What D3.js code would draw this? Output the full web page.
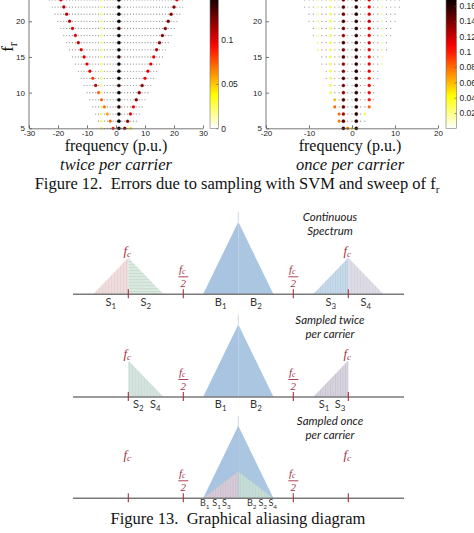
<!DOCTYPE html>
<html><head><meta charset="utf-8">
<script src="https://cdn.jsdelivr.net/npm/d3@7"></script>
<style>body{margin:0;background:#fff;} svg{display:block;}</style>
</head><body><svg id="c" width="474" height="533"></svg>
<script>
// ---------------- DATA (Figure 12) ----------------
const frRows = [5,6,7,8,9,10,11,12,13,14,15,16,17,18,19,20,21,22,23];
// twice per carrier: extent of computed harmonic bins per row
const twiceLow  = [-5,-6,-7,-8,-9,-10,-11,-12,-13,-14,-15,-16,-17,-18,-19,-20,-21,-22,-23];
const twiceHigh = [5,7,8,9,10,11,12,13,14,15,16,17,18,19,20,21,22,23,23];
// fundamental (f = 1) error
const twiceFund = [0.15,0.15,0.15,0.14,0.15,0.15,0.14,0.15,0.15,0.15,0.14,0.15,0.15,0.15,0.14,0.15,0.15,0.15,0.15];
// 5th harmonic (f = -5) error
const twiceH5 = [0.025,0.025,0.025,0.025,0.025,0.022,0.022,0.022,0.022,0.022,0.022,0.022,0.022,0.022,0.022,0.022,0.022,0.022,0.022];
// lower aliased sideband
const twiceLowF = [-1,-2,-3,-4,-5,-6,-7,-8,-9,-10,-11,-12,-13,-14,-15,-16,-17,-18,-19];
const twiceLowV = [0.09,0.07,0.06,0.07,0.075,0.075,0.11,0.085,0.1,0.1,0.1,0.1,0.11,0.1,0.105,0.11,0.11,0.11,0.1];
// upper aliased sideband
const twiceUpF = [3,4,5,6,7,8,9,10,11,12,13,14,15,16,17,18,19,20,21];
const twiceUpV = [0.12,0.12,0.1,0.1,0.12,0.12,0.12,0.1,0.1,0.1,0.1,0.11,0.12,0.12,0.12,0.125,0.12,0.12,0.1];
const twiceExtraFr = [5];
const twiceExtraF  = [5];
const twiceExtraV  = [0.04];

// once per carrier
const onceLow  = [-2,-3,-3,-4,-4,-5,-5,-6,-6,-7,-7,-8,-8,-9,-9,-10,-10,-11,-11];
const onceHigh = [1,3,3,4,5,5,5,6,6,7,7,8,8,9,9,10,10,11,11];
const onceFund = [0.16,0.16,0.16,0.16,0.16,0.16,0.16,0.16,0.16,0.16,0.16,0.16,0.16,0.16,0.16,0.16,0.16,0.16,0.16];
const onceM2   = [0.16,0.15,0.13,0.14,0.15,0.13,0.14,0.15,0.14,0.13,0.15,0.14,0.15,0.13,0.14,0.15,0.14,0.15,0.14];
const onceP4   = [null,null,null,0.08,0.1,0.11,0.11,0.1,0.11,0.11,0.1,0.11,0.12,0.11,0.11,0.12,0.11,0.11,0.11];
const onceM5   = [null,null,null,null,null,0.035,0.035,0.035,0.035,0.035,0.035,0.035,0.035,0.035,0.035,0.035,0.035,0.035,0.035];
const onceM8   = [null,null,null,null,null,null,null,null,null,null,null,0.015,0.015,0.015,0.015,0.015,0.015,0.015,0.015];
const onceP7   = [null,null,null,null,null,null,null,null,null,0.012,0.012,0.012,0.012,0.012,0.012,0.012,0.012,0.012,0.012];
const onceExtraFr = [5,5,6,7,7,8,9];
const onceExtraF  = [-1,0,-3,-3,3,-4,-4];
const onceExtraV  = [0.08,0.04,0.075,0.08,0.03,0.08,0.06];

const xTicksTwice = [-30,-20,-10,0,10,20,30];
const xTicksOnce  = [-20,-10,0,10,20];
const yTicks = [5,10,15,20];
const cbTicksTwice = [0,0.05,0.1];
const cbTicksOnce  = [0.02,0.04,0.06,0.08,0.1,0.12,0.14,0.16];

// ---------------- DATA (Figure 13) ----------------
const markerPos   = [-1,-0.5,0.5,1];          // in units of f_c
const markerKind  = ["fc","half","half","fc"];
const panelTitles = [["Continuous","Spectrum"],["Sampled twice","per carrier"],["Sampled once","per carrier"]];

// ---------------- helpers ----------------
const svg = d3.select("#c");
function hotRev(t){
  const s = 1 - Math.max(0, Math.min(1, t));
  const r = Math.min(1, s/0.375), g = Math.max(0, Math.min(1,(s-0.375)/0.375)), b = Math.max(0, Math.min(1,(s-0.75)/0.25));
  return d3.rgb(r*255, g*255, b*255).toString();
}
const defs = svg.append("defs");

function buildPoints(low, high, specials){
  const pts = [];
  frRows.forEach((r,i)=>{
    const sp = specials.filter(s=>s.fr===r);
    for(let f=low[i]; f<=high[i]; f++){
      if(!sp.some(s=>s.f===f)) pts.push({fr:r,f:f,v:0});
    }
    sp.forEach(s=>pts.push(s));
  });
  return pts.sort((a,b)=>a.v-b.v);
}
function series(fArr, vArr){
  const out=[];
  frRows.forEach((r,i)=>{
    const f = Array.isArray(fArr)? fArr[i] : fArr;
    if(vArr[i]!=null) out.push({fr:r,f:f,v:vArr[i]});
  });
  return out;
}
function extras(frs, fs, vs){ return frs.map((r,i)=>({fr:r,f:fs[i],v:vs[i]})); }

function drawScatter(opts){
  const {x, y, pts, color, cbX, cbW, cbScale, cbTicks, cbFmt, id} = opts;
  const g = svg.append("g");
  const dots = g.append("g");
  dots.selectAll("circle").data(pts).join("circle")
    .attr("cx", d=>x(d.f)).attr("cy", d=>y(d.fr))
    .attr("r", d=> d.v===0 ? 0.6 : 0.7 + Math.sqrt(d.v)*2.4)
    .attr("fill", d=> d.v===0 ? "#8c8c8c" : color(d.v))
    .attr("stroke", d=> d.v===0 ? "none" : d3.color(color(d.v)).darker(0.3))
    .attr("stroke-width", 0.3);
  // axes
  const ax = g.append("g").attr("transform",`translate(0,${y(5)})`)
    .call(d3.axisBottom(x).tickValues(opts.xTicks).tickFormat(d=>String(d)).tickSizeInner(-3).tickSizeOuter(0).tickPadding(2));
  const ay = g.append("g").attr("transform",`translate(${x.range()[0]},0)`)
    .call(d3.axisLeft(y).tickValues(yTicks).tickFormat(d=>String(d)).tickSizeInner(-3).tickSizeOuter(0).tickPadding(4));
  [ax,ay].forEach(a=>{
    a.selectAll("path,line").attr("stroke","#555").attr("stroke-width",0.8);
    a.selectAll("text").attr("font-family","Liberation Sans, Arial, sans-serif").attr("font-size",8).attr("fill","#222");
  });
  ay.select(".domain").attr("d",`M0,${y(5)}V${y(24.5)}`);
  // colorbar
  const grad = defs.append("linearGradient").attr("id",id).attr("x1",0).attr("x2",0).attr("y1",1).attr("y2",0);
  d3.range(0,1.0001,0.05).forEach(t=>{
    grad.append("stop").attr("offset",t).attr("stop-color", color(cbScale.domain()[0] + t*(cbScale.domain()[1]-cbScale.domain()[0])));
  });
  const [c0,c1] = cbScale.range();
  g.append("rect").attr("x",cbX).attr("y",c1).attr("width",cbW).attr("height",c0-c1)
    .attr("fill",`url(#${id})`).attr("stroke","#777").attr("stroke-width",0.6);
  const cb = g.append("g").attr("transform",`translate(${cbX+cbW},0)`)
    .call(d3.axisRight(cbScale).tickValues(cbTicks).tickFormat(cbFmt).tickSizeInner(-2).tickSizeOuter(0).tickPadding(3));
  cb.select(".domain").remove();
  cb.selectAll("line").attr("stroke","#555").attr("stroke-width",0.6);
  cb.selectAll("text").attr("font-family","Liberation Sans, Arial, sans-serif").attr("font-size",8.5).attr("fill","#222");
}

// ---------------- Figure 12 ----------------
const yS = d3.scaleLinear().domain([5,20]).range([128.3,21.3]);
const xL = d3.scaleLinear().domain([-30,30]).range([29,203]);
const xR = d3.scaleLinear().domain([-20,20]).range([266,438]);

const colL = d3.scaleSequential(t=>hotRev(t)).domain([0,0.15]);
const colR = d3.scaleSequential(t=>hotRev(t)).domain([0,0.17]);

const ptsL = buildPoints(twiceLow, twiceHigh, [].concat(
  series(-5, twiceH5), series(twiceLowF, twiceLowV), series(twiceUpF, twiceUpV),
  extras(twiceExtraFr, twiceExtraF, twiceExtraV), series(1, twiceFund)));
const ptsR = buildPoints(onceLow, onceHigh, [].concat(
  series(-8, onceM8), series(7, onceP7), series(-5, onceM5), series(4, onceP4),
  extras(onceExtraFr, onceExtraF, onceExtraV), series(-2, onceM2), series(1, onceFund)));

drawScatter({x:xL, y:yS, pts:ptsL, color:colL, xTicks:xTicksTwice, cbX:210, cbW:8.3,
  cbScale:d3.scaleLinear().domain([0,0.15]).range([128.3,128.3-0.15/0.05*44.4]), cbTicks:cbTicksTwice,
  cbFmt:d=>d===0?"0":String(d), id:"gL"});
drawScatter({x:xR, y:yS, pts:ptsR, color:colR, xTicks:xTicksOnce, cbX:446, cbW:10.5,
  cbScale:d3.scaleLinear().domain([0,0.17]).range([128.3,128.3-0.17/0.02*15.3]), cbTicks:cbTicksOnce,
  cbFmt:d=>String(d), id:"gR"});

// axis / caption texts
const serif = "Liberation Serif, Times New Roman, serif";
const yl = svg.append("text").attr("transform","translate(13,47) rotate(-90)")
  .attr("text-anchor","middle").attr("font-family",serif).attr("font-size",17).attr("fill","#111");
yl.append("tspan").text("f");
yl.append("tspan").attr("dy",4).attr("font-size",12).text("r");

[[116,"twice per carrier"],[350,"once per carrier"]].forEach(([cx,t])=>{
  svg.append("text").attr("x",cx).attr("y",150.5).attr("text-anchor","middle")
    .attr("font-family",serif).attr("font-size",16).attr("fill","#111").text("frequency (p.u.)");
  svg.append("text").attr("x",cx).attr("y",169.5).attr("text-anchor","middle")
    .attr("font-family",serif).attr("font-style","italic").attr("font-size",16.5).attr("fill","#111").text(t);
});
const cap12 = svg.append("text").attr("x",237).attr("y",189).attr("text-anchor","middle")
  .attr("font-family",serif).attr("font-size",16.5).attr("fill","#111");
cap12.append("tspan").text("Figure 12.\u00a0 Errors due to sampling with SVM and sweep of f");
cap12.append("tspan").attr("dy",4).attr("font-size",11).text("r");

// ---------------- Figure 13 ----------------
const xD = d3.scaleLinear().domain([-1,1]).range([128.3,348.3]);
const hw = 0.32;                       // triangle half width (units of f_c)
const baselines = [294.3, 397, 498.3];
const sideH = 36.5, centH = 72.5, innerH = 27;
const dred = "#a3303f";
const sansF = "Lato, Open Sans, sans-serif";

function pattern(id, bg, line, vertical, step){
  const p = defs.append("pattern").attr("id",id).attr("patternUnits","userSpaceOnUse")
    .attr("width", step).attr("height", step);
  p.append("rect").attr("width",step).attr("height",step).attr("fill",bg);
  if(vertical) p.append("line").attr("x1",0.5).attr("x2",0.5).attr("y1",0).attr("y2",step).attr("stroke",line).attr("stroke-width",0.7);
  else p.append("line").attr("y1",0.5).attr("y2",0.5).attr("x1",0).attr("x2",step).attr("stroke",line).attr("stroke-width",0.7);
}
pattern("pS1","#efdcdc","#e6cfcf",true,3);
pattern("pS2","#dae9df","#c3d8ca",false,3);
pattern("pS3","#c8dbea","#b1cadf",true,2.5);
pattern("pS4","#dddce6","#d3d1dd",true,3);
pattern("pT1","#d4e3dd","#c8dad2",true,3);
pattern("pT2","#d9d5df","#c4bfce",true,2.5);
pattern("pI1","#d8ccd9","#c8bccc",true,2.5);
pattern("pI2","#c6ddd7","#b9d3cc",true,3);

const line = d3.line().x(d=>xD(d[0])).y(d=>d[1]);
function poly(g, pts, fill){ g.append("path").attr("d", line(pts)+"Z").attr("fill",fill).attr("stroke","none"); }

function fcLabel(g, x, y, size, subDy){
  const t = g.append("text").attr("x",x).attr("y",y).attr("text-anchor","middle")
    .attr("font-family",serif).attr("font-style","italic").attr("font-size",size).attr("fill",dred);
  t.append("tspan").text("f");
  t.append("tspan").attr("dy",subDy).attr("font-size",size*0.7).text("c");
}
function subLabel(g, x, y, main, sub, size){
  const t = g.append("text").attr("x",x).attr("y",y).attr("text-anchor","middle")
    .attr("font-family",sansF).attr("font-size",size).attr("fill","#333");
  t.append("tspan").text(main);
  t.append("tspan").attr("dy",size*0.25).attr("font-size",size*0.72).text(sub);
}

baselines.forEach((b,pi)=>{
  const g = svg.append("g");
  // shapes
  if(pi===0){
    poly(g, [[-1-hw,b],[-1,b-sideH],[-1,b]], "url(#pS1)");
    poly(g, [[-1,b],[-1,b-sideH],[-1+hw,b]], "url(#pS2)");
    poly(g, [[1-hw,b],[1,b-sideH],[1,b]], "url(#pS3)");
    poly(g, [[1,b],[1,b-sideH],[1+hw,b]], "url(#pS4)");
  }
  if(pi===1){
    poly(g, [[-1,b],[-1,b-sideH],[-1+hw,b]], "url(#pT1)");
    poly(g, [[1-hw,b],[1,b-sideH],[1,b]], "url(#pT2)");
  }
  poly(g, [[-hw,b],[0,b-centH],[0,b]], "#a8c4e0");
  poly(g, [[0,b],[0,b-centH],[hw,b]], "#abc6e1");
  if(pi===2){
    poly(g, [[-hw,b],[0,b-innerH],[0,b]], "url(#pI1)");
    poly(g, [[0,b],[0,b-innerH],[hw,b]], "url(#pI2)");
    g.append("line").attr("x1",xD(-hw)).attr("y1",b).attr("x2",xD(0)).attr("y2",b-innerH).attr("stroke","#b7c6d6").attr("stroke-width",0.6);
    g.append("line").attr("x1",xD(hw)).attr("y1",b).attr("x2",xD(0)).attr("y2",b-innerH).attr("stroke","#b7c6d6").attr("stroke-width",0.6);
    g.append("line").attr("x1",xD(0)).attr("y1",b-centH).attr("x2",xD(0)).attr("y2",b).attr("stroke","#9fb6cc").attr("stroke-width",0.5);
  }
  g.append("line").attr("x1",xD(0)).attr("x2",xD(0)).attr("y1",b-centH-10).attr("y2",b-centH)
    .attr("stroke","#c3cfdb").attr("stroke-width",0.8);
  // baseline
  g.append("line").attr("x1",73).attr("x2",404).attr("y1",b).attr("y2",b).attr("stroke","#7a7a7a").attr("stroke-width",1.5);
  // markers
  markerPos.forEach((m,i)=>{
    const x = xD(m);
    g.append("line").attr("x1",x).attr("x2",x).attr("y1",b-5).attr("y2",b+4).attr("stroke",dred).attr("stroke-width",1.1);
    if(markerKind[i]==="fc"){
      fcLabel(g, x-1, b-39, 13, 2);
    } else {
      fcLabel(g, x-1, b-21.5, 11, 1);
      g.append("line").attr("x1",x-5).attr("x2",x+5).attr("y1",b-17.5).attr("y2",b-17.5).attr("stroke",dred).attr("stroke-width",0.9);
      g.append("text").attr("x",x).attr("y",b-7).attr("text-anchor","middle").attr("font-family",serif)
        .attr("font-style","italic").attr("font-size",11).attr("fill",dred).text("2");
    }
  });
  // titles
  panelTitles[pi].forEach((t,li)=>{
    g.append("text").attr("x",330).attr("y",b-73.5+li*14.5).attr("text-anchor","middle")
      .attr("font-family",sansF).attr("font-style","italic").attr("font-size",11.5).attr("fill","#1a1a1a").text(t);
  });
  // labels
  if(pi===0){
    [["S","1",-1-hw/2],["S","2",-1+hw/2],["B","1",-hw/2],["B","2",hw/2],["S","3",1-hw/2],["S","4",1+hw/2]]
      .forEach(([m,s,p])=>subLabel(g, xD(p), b+12, m, s, 11));
  }
  if(pi===1){
    [["S","2",-1+0.09],["S","4",-1+0.245],["B","1",-hw/2],["B","2",hw/2],["S","1",1-0.22],["S","3",1-0.075]]
      .forEach(([m,s,p])=>subLabel(g, xD(p), b+11, m, s, 11));
  }
  if(pi===2){
    [["B","1",-0.305],["S","1",-0.197],["S","3",-0.108],["B","2",0.122],["S","2",0.222],["S","4",0.313]]
      .forEach(([m,s,p])=>subLabel(g, xD(p), b+8, m, s, 9));
  }
});

svg.append("text").attr("x",238).attr("y",524).attr("text-anchor","middle")
  .attr("font-family",serif).attr("font-size",16.5).attr("fill","#111").text("Figure 13.\u00a0 Graphical aliasing diagram");
</script>
</body></html>
